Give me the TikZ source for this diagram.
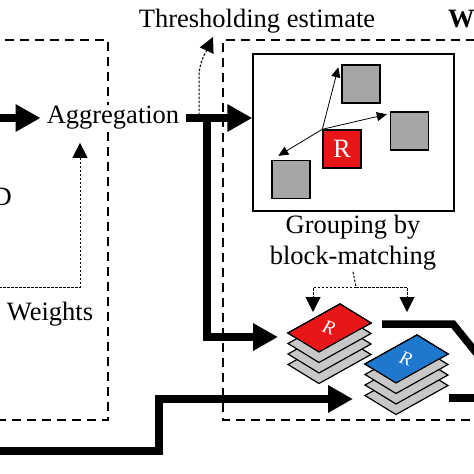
\documentclass[tikz,border=0pt]{standalone}
\usepackage{fontspec}
\setmainfont{Liberation Serif}
\usetikzlibrary{arrows.meta,positioning}
\definecolor{refred}{RGB}{232,22,22}
\definecolor{refblue}{RGB}{30,120,205}
\definecolor{patchgray}{RGB}{166,166,166}
\definecolor{layergray}{RGB}{200,200,200}
\tikzset{
	txt/.style={font=\fontsize{26.5}{31}\selectfont, inner sep=1pt, align=center},
	fat/.style={line width=7.5pt},
	fatarrow/.style={fat, -{Triangle[length=25pt,width=26pt]}},
	hint/.style={line width=1pt, dash pattern=on 2.5pt off 1.5pt, -{Triangle[length=15pt,width=15pt]}},
	region/.style={line width=1.4pt, dash pattern=on 9pt off 6pt},
	patch/.style={draw, line width=1.4pt, fill=patchgray, minimum size=38pt, inner sep=0pt},
	refpatch/.style={patch, fill=refred, text=white, font=\fontsize{26.5}{31}\selectfont},
	link/.style={line width=0.8pt, -{Triangle[length=10pt,width=9pt]}}
}
\newcommand{\grouplayer}[3]{
	\draw[line width=1.2pt, fill=#3] (#1,#2) -- ++(52,-29) -- ++(31,19) -- ++(-52,29) -- cycle;
}
\newcommand{\groupstack}[4]{
	\foreach \k in {3,2,1}
		\grouplayer{#2}{#3+10.5*\k}{layergray}
	\grouplayer{#2}{#3}{#4}
	\node[text=white, rotate=-20, font=\fontsize{19}{22}\selectfont\itshape] (#1) at (#2+41,#3-5) {R};
}

\begin{document}
\begin{tikzpicture}[x=1pt,y=-1pt]
	\useasboundingbox (0,0) rectangle (474,474);
	\clip (0,0) rectangle (474,474);

	\draw[region] (-10,40) -- (108,40) -- (108,420) -- (-10,420);
	\draw[region] (490,40) -- (223,40) -- (223,420) -- (490,420);

	\node[txt, fill=white] (aggr) at (113,118) {Aggregation};
	\node[txt, anchor=base] (thresh) at (257,27) {Thresholding estimate};
	\node[txt, anchor=base west, inner sep=0pt] (wiener) at (448,27) {\bfseries W};
	\node[txt, anchor=base east, inner sep=0pt] (bm3d) at (12,205) {D};
	\node[txt] (weights) at (50,314) {Weights};

	\node[draw, line width=1.4pt, minimum width=201pt, minimum height=157pt, inner sep=0pt] (search) at (353.5,132.5) {};
	\node[patch] (p1) at (361,84) {};
	\node[patch] (p2) at (409.5,131) {};
	\node[patch] (p3) at (291,179.5) {};
	\node[refpatch] (ref) at (342,149) {R};
	\draw[link] (ref.north west) -- ([shift={(-3pt,-3pt)}]p1.north west);
	\draw[link] (ref.north west) -- ([shift={(-3pt,-3pt)}]p2.north west);
	\draw[link] (ref.north west) -- ([shift={(7pt,4pt)}]p3.north west);

	\node[txt] (group) at (353,243) {Grouping by\\block-matching};

	\groupstack{redtop}{288}{333}{refred}
	\groupstack{bluetop}{365}{364}{refblue}

	\coordinate (lsrc) at (-5,118);
	\coordinate (fork) at (207,114);
	\coordinate (redin) at (278,337);
	\coordinate (bsrc) at (-5,451);
	\coordinate (bluein) at (353,399);
	\coordinate (redout) at (382,324);
	\coordinate (exit1) at (482,360);
	\coordinate (blueout) at (449,398);
	\coordinate (exit2) at (482,398);
	\coordinate (wsrc) at (-5,287);
	\coordinate (tap) at (199,115);
	\coordinate (threshin) at (213,37);
	\coordinate (split) at (356,287);
	\coordinate (redhint) at (313,312);
	\coordinate (bluehint) at (407,312);

	\draw[fatarrow, shorten >=5pt] (lsrc) -- (aggr);
	\draw[fatarrow, shorten <=6pt] (aggr.east) -- (aggr.east -| search.west);
	\draw[fatarrow] (fork) |- (redin);
	\draw[fatarrow] (bsrc) -| ([xshift=-194pt]bluein) -- (bluein);
	\draw[fat] (redout) -- ++(71,0) -- (exit1);
	\draw[fat] (blueout) -- (exit2);

	\draw[hint, shorten >=12pt] (wsrc) -| ([xshift=-33pt]aggr.south);
	\draw[hint] (tap) -- ++(0,-38) .. controls (199,62) and (206,52) .. (threshin);
	\draw[hint, -] (group.south) -- (split);
	\draw[hint] (split) -| (redhint);
	\draw[hint] (split) -| (bluehint);
\end{tikzpicture}
\end{document}
